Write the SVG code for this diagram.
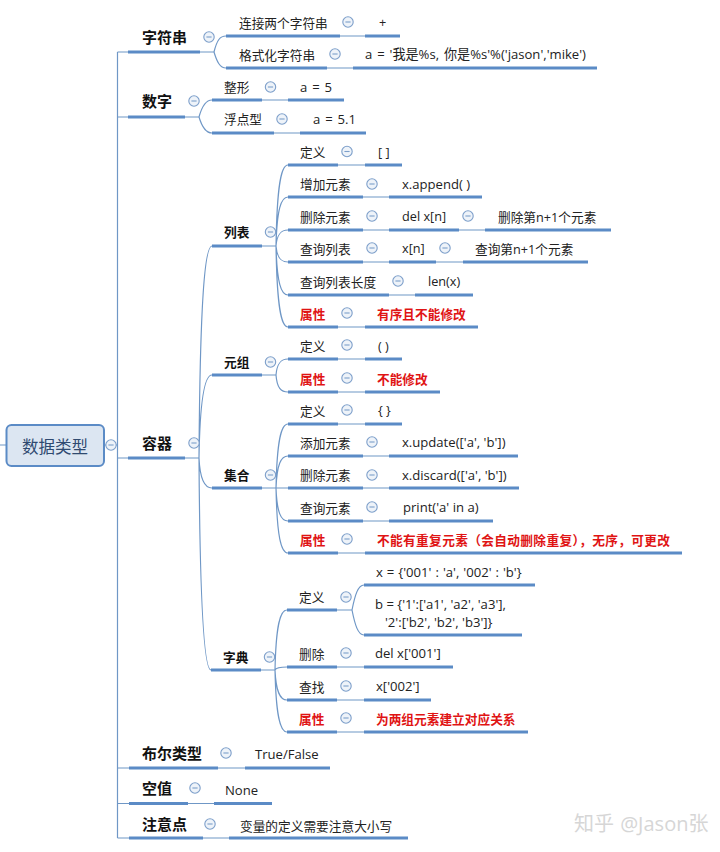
<svg xmlns="http://www.w3.org/2000/svg" width="720" height="852" viewBox="0 0 720 852">
<style>
text{font-family:"Open Sans","Noto Sans CJK SC",sans-serif;font-size:12.7px;fill:#222;dominant-baseline:central;font-kerning:none}
.l{font-size:13.1px}
.w{font-size:13.1px;word-spacing:1.5px}
.t1{font-size:15px;font-weight:700;fill:#111}
.t2{font-size:12.7px;font-weight:700;fill:#111}
.r{font-weight:700;fill:#e01414}
.root{font-size:16.5px;fill:#2f4a70}
.wm{font-size:20px;fill:#d6d6d6;word-spacing:1px}
.bar{fill:#5b8bc6}
.ln{fill:none;stroke:#6f97c6;stroke-width:1.2}
.c{fill:#eef3f9;stroke:#7d9fca;stroke-width:1.1}
.m{stroke:#7d9fca;stroke-width:1.1}
</style>
<defs>
<g id="col"><circle class="c" r="5.2"/><line class="m" x1="-2.6" x2="2.6"/></g>
</defs>
<rect width="720" height="852" fill="#fff"/>
<g id="connectors" class="ln">
<path d="M0 445H6M104 445H117.5M117.5 52V838M117.5 52H128M117.5 117H128M117.5 458H128M117.5 768H129M117.5 803.5H129M117.5 838H129"/>
<path d="M200 52H214C217 40 220 36 226 36M214 52C217 62 220 68 226 68M340 36H365M327 68H353"/>
<path d="M185 117H199C202 106 206 100 212 100M199 117C202 127 206 133 212 133M262 100H288M274 133H300"/>
<path d="M185 458H199M199 458C200 299 205 246 212 246M199 458C200 396 205 375 212 375M199 458C200 480 205 488 212 488M199 458C200 617 205 670 211 670"/>
<path d="M262 246H276C277 185 281 165 288 165M276 246C277 209 281 197 288 197M276 246C277 234 281 230 288 230M276 246C277 258 281 262 288 262M276 246C277 283 281 295 288 295M276 246C277 307 281 327 288 327"/>
<path d="M338 165H365M363 197H389M363 230H389M459 230H485M363 262H389M436 262H463M389 295H415M338 327H365"/>
<path d="M262 375H276C277 363 281 359 288 359M276 375C277 388 281 392 288 392M338 359H365M338 392H365"/>
<path d="M262 488H288M276 488C277 440 281 424 288 424M276 488C277 464 281 456 288 456M276 488C277 513 281 521 288 521M276 488C277 537 281 553 288 553M338 424H365M363 456H389M363 488H389M363 521H389M338 553H365"/>
<path d="M261 670H275C276 625 280 610 287 610M275 670C276 668 280 667 287 667M275 670C276 692 280 700 287 700M275 670C276 716 280 732 287 732"/>
<path d="M337 610H352C355 595 358 585 364 585M352 610C355 625 358 635 364 635M337 667H364M337 700H364M337 732H364"/>
<path d="M218 768H245M188 803.5H214M203 838H229"/>
</g>
<g id="root"><rect x="6.5" y="425" width="97.5" height="41" rx="5" fill="#dce6f2" stroke="#5b8bc6" stroke-width="2"/><text class="root" x="22" y="446">数据类型</text><use href="#col" x="111" y="445"/></g>
<g id="n-str"><rect class="bar" x="128" y="50.5" width="72" height="3"/><text class="t1" x="142" y="37">字符串</text><use href="#col" x="209" y="37"/></g>
<g id="n-str1"><rect class="bar" x="226" y="34.5" width="114" height="3"/><text x="239" y="23">连接两个字符串</text><use href="#col" x="348" y="22"/><rect class="bar" x="365" y="34.5" width="35" height="3"/><text x="379" y="22">+</text></g>
<g id="n-str2"><rect class="bar" x="226" y="66.5" width="101" height="3"/><text x="239" y="55">格式化字符串</text><use href="#col" x="335" y="54"/><rect class="bar" x="353" y="66.5" width="244" height="3"/><text class="w" x="365" y="54">a = '我是%s, 你是%s'%('jason','mike')</text></g>
<g id="n-num"><rect class="bar" x="128" y="115.5" width="57" height="3"/><text class="t1" x="142" y="101">数字</text><use href="#col" x="194" y="101"/></g>
<g id="n-int"><rect class="bar" x="212" y="98.5" width="50" height="3"/><text x="224" y="87">整形</text><use href="#col" x="270.500" y="87"/><rect class="bar" x="288" y="98.5" width="56" height="3"/><text class="w" x="300" y="87">a = 5</text></g>
<g id="n-float"><rect class="bar" x="212" y="131.5" width="62" height="3"/><text x="224" y="119">浮点型</text><use href="#col" x="282" y="119"/><rect class="bar" x="300" y="131.500" width="66" height="3"/><text class="w" x="313" y="119">a = 5.1</text></g>
<g id="n-box"><rect class="bar" x="128" y="456.5" width="57" height="3"/><text class="t1" x="142" y="443">容器</text><use href="#col" x="194" y="443"/></g>
<g id="n-list"><rect class="bar" x="212" y="244.5" width="50" height="3"/><text class="t2" x="224" y="232">列表</text><use href="#col" x="270.500" y="232"/></g>
<g id="n-list1"><rect class="bar" x="288" y="163.5" width="50" height="3"/><text x="300" y="152">定义</text><use href="#col" x="347" y="151.500"/><rect class="bar" x="365" y="163.5" width="37" height="3"/><text x="378" y="152">[ ]</text></g>
<g id="n-list2"><rect class="bar" x="288" y="195.5" width="75" height="3"/><text x="300" y="184">增加元素</text><use href="#col" x="372" y="184"/><rect class="bar" x="389" y="195.5" width="93" height="3"/><text class="l" x="402" y="184">x.append( )</text></g>
<g id="n-list3"><rect class="bar" x="288" y="228.5" width="75" height="3"/><text x="300" y="217">删除元素</text><use href="#col" x="372" y="216"/><rect class="bar" x="389" y="228.5" width="70" height="3"/><text x="402" y="216">del x[n]</text><use href="#col" x="468" y="216"/><rect class="bar" x="485" y="228.5" width="126" height="3"/><text x="498" y="217">删除第n+1个元素</text></g>
<g id="n-list4"><rect class="bar" x="288" y="260.5" width="75" height="3"/><text x="300" y="249">查询列表</text><use href="#col" x="372" y="248"/><rect class="bar" x="389" y="260.5" width="47" height="3"/><text x="402" y="248">x[n]</text><use href="#col" x="445" y="248"/><rect class="bar" x="463" y="260.5" width="125" height="3"/><text x="475" y="249">查询第n+1个元素</text></g>
<g id="n-list5"><rect class="bar" x="288" y="293.5" width="101" height="3"/><text x="300" y="282">查询列表长度</text><use href="#col" x="398" y="281"/><rect class="bar" x="415" y="293.5" width="58" height="3"/><text x="428" y="281">len(x)</text></g>
<g id="n-list6"><rect class="bar" x="288" y="325.5" width="50" height="3"/><text class="r" x="300" y="314">属性</text><use href="#col" x="347" y="313"/><rect class="bar" x="365" y="325.5" width="113" height="3"/><text class="r" x="377" y="314">有序且不能修改</text></g>
<g id="n-tuple"><rect class="bar" x="212" y="373.5" width="50" height="3"/><text class="t2" x="224" y="362">元组</text><use href="#col" x="270.500" y="362"/></g>
<g id="n-tuple1"><rect class="bar" x="288" y="357.5" width="50" height="3"/><text x="300" y="346">定义</text><use href="#col" x="347" y="345"/><rect class="bar" x="365" y="357.5" width="37" height="3"/><text x="378" y="346">( )</text></g>
<g id="n-tuple2"><rect class="bar" x="288" y="390.5" width="50" height="3"/><text class="r" x="300" y="379">属性</text><use href="#col" x="347" y="378"/><rect class="bar" x="365" y="390.5" width="75" height="3"/><text class="r" x="377" y="379">不能修改</text></g>
<g id="n-set"><rect class="bar" x="212" y="486.5" width="50" height="3"/><text class="t2" x="224" y="475">集合</text><use href="#col" x="270.500" y="475"/></g>
<g id="n-set1"><rect class="bar" x="288" y="422.5" width="50" height="3"/><text x="300" y="411">定义</text><use href="#col" x="347" y="410"/><rect class="bar" x="365" y="422.5" width="37" height="3"/><text x="378" y="410">{ }</text></g>
<g id="n-set2"><rect class="bar" x="288" y="454.5" width="75" height="3"/><text x="300" y="443">添加元素</text><use href="#col" x="372" y="442"/><rect class="bar" x="389" y="454.5" width="129" height="3"/><text class="l" x="402" y="442">x.update(['a', 'b'])</text></g>
<g id="n-set3"><rect class="bar" x="288" y="486.5" width="75" height="3"/><text x="300" y="475">删除元素</text><use href="#col" x="372" y="475"/><rect class="bar" x="389" y="486.5" width="130" height="3"/><text class="l" x="402" y="475">x.discard(['a', 'b'])</text></g>
<g id="n-set4"><rect class="bar" x="288" y="519.5" width="75" height="3"/><text x="300" y="508">查询元素</text><use href="#col" x="372" y="507"/><rect class="bar" x="389" y="519.5" width="104" height="3"/><text class="l" x="403" y="507">print('a' in a)</text></g>
<g id="n-set5"><rect class="bar" x="288" y="551.5" width="50" height="3"/><text class="r" x="300" y="540">属性</text><use href="#col" x="347" y="539"/><rect class="bar" x="365" y="551.5" width="317" height="3"/><text class="r" x="377" y="540" textLength="293" lengthAdjust="spacing">不能有重复元素（会自动删除重复），无序，可更改</text></g>
<g id="n-dict"><rect class="bar" x="211" y="668.5" width="50" height="3"/><text class="t2" x="223" y="657">字典</text><use href="#col" x="269.500" y="657"/></g>
<g id="n-dict1"><rect class="bar" x="287" y="608.5" width="50" height="3"/><text x="299" y="597">定义</text><use href="#col" x="346" y="597"/></g>
<g id="n-dict1a"><rect class="bar" x="364" y="583.5" width="171" height="3"/><text class="l" style="word-spacing:.6px" x="376" y="572">x = {'001' : 'a', '002' : 'b'}</text></g>
<g id="n-dict1b"><rect class="bar" x="364" y="633.5" width="158" height="3"/><text class="l" x="375" y="604">b = {'1':['a1', 'a2', 'a3'],</text><text class="l" x="385" y="622">'2':['b2', 'b2', 'b3']}</text></g>
<g id="n-dict2"><rect class="bar" x="287" y="665.5" width="50" height="3"/><text x="299" y="654">删除</text><use href="#col" x="346" y="653"/><rect class="bar" x="364" y="665.5" width="89" height="3"/><text class="l" x="375" y="653">del x['001']</text></g>
<g id="n-dict3"><rect class="bar" x="287" y="698.5" width="50" height="3"/><text x="299" y="687">查找</text><use href="#col" x="346" y="686"/><rect class="bar" x="364" y="698.5" width="67" height="3"/><text class="l" x="376" y="686">x['002']</text></g>
<g id="n-dict4"><rect class="bar" x="287" y="730.5" width="50" height="3"/><text class="r" x="299" y="719">属性</text><use href="#col" x="346" y="718"/><rect class="bar" x="364" y="730.5" width="164" height="3"/><text class="r" x="376" y="719">为两组元素建立对应关系</text></g>
<g id="n-bool"><rect class="bar" x="129" y="766.5" width="89" height="3"/><text class="t1" x="142" y="753">布尔类型</text><use href="#col" x="226" y="753"/><rect class="bar" x="245" y="766.5" width="85" height="3"/><text class="l" x="255" y="754">True/False</text></g>
<g id="n-none"><rect class="bar" x="129" y="802" width="59" height="3"/><text class="t1" x="142" y="788">空值</text><use href="#col" x="195" y="788"/><rect class="bar" x="214" y="802" width="58" height="3"/><text class="l" x="225" y="790">None</text></g>
<g id="n-note"><rect class="bar" x="129" y="836.5" width="74" height="3"/><text class="t1" x="142" y="824">注意点</text><use href="#col" x="210" y="824"/><rect class="bar" x="229" y="836.5" width="179" height="3"/><text x="240" y="826">变量的定义需要注意大小写</text></g>
<text class="wm" x="574" y="823">知乎 @Jason张</text>
</svg>
